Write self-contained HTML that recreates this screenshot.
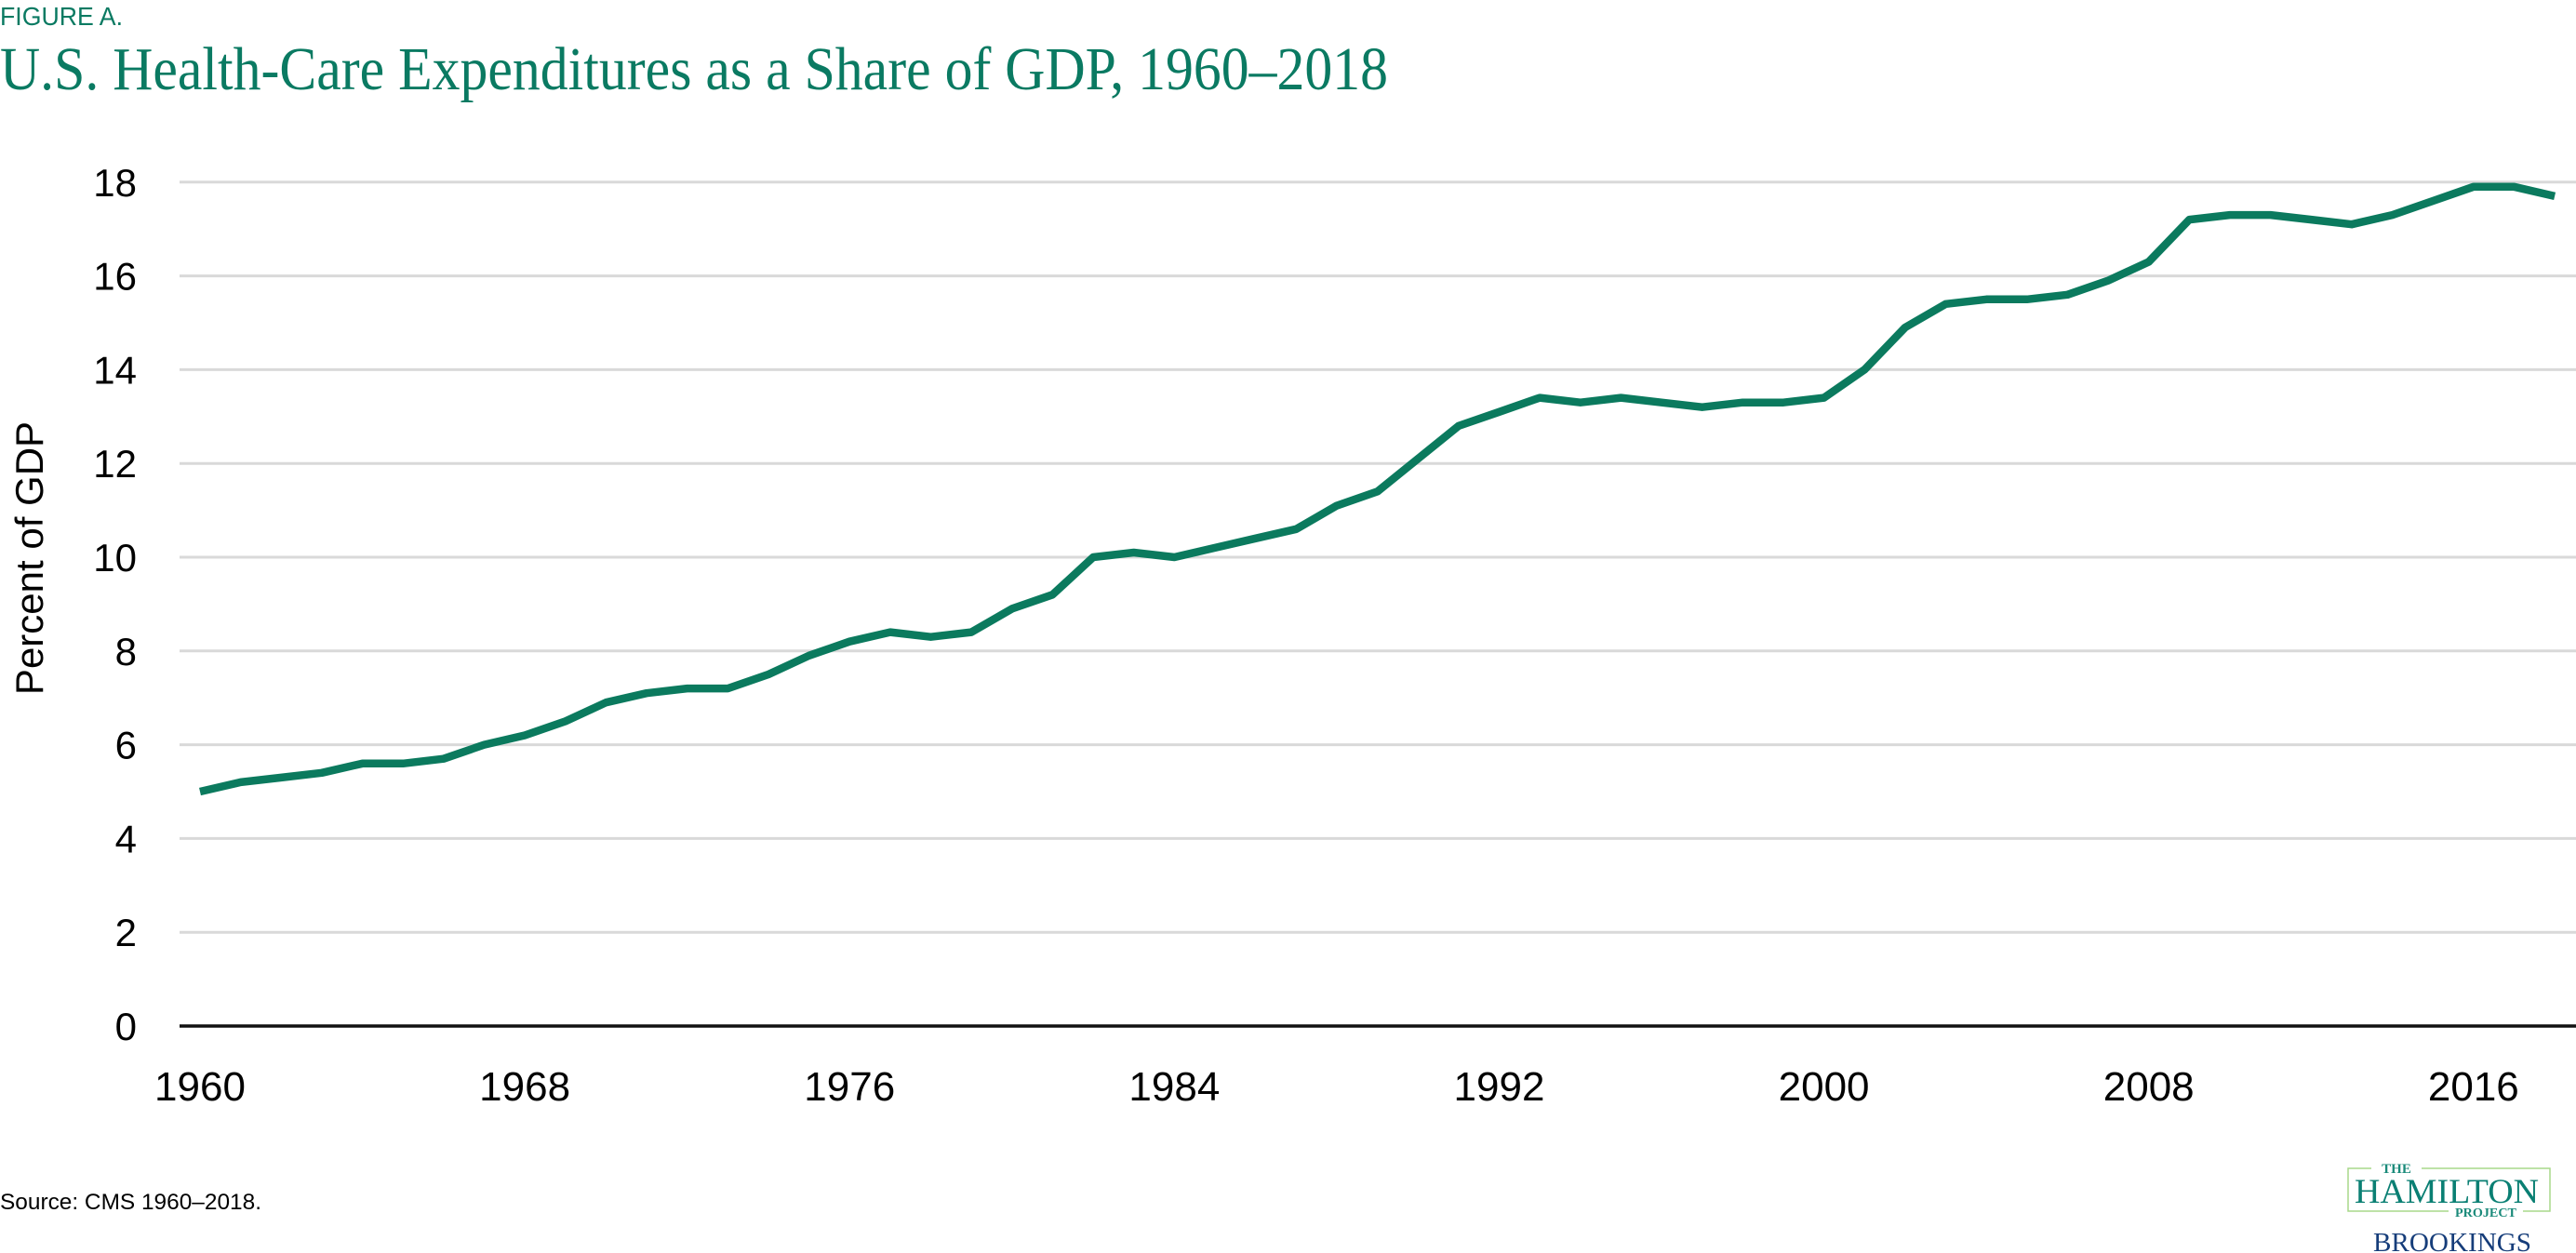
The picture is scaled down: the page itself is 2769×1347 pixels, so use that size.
<!DOCTYPE html>
<html><head><meta charset="utf-8"><style>
html,body{margin:0;padding:0;background:#fff;}
svg{display:block;}
</style></head><body>
<svg id="s" width="2769" height="1347" viewBox="0 0 2769 1347" xmlns="http://www.w3.org/2000/svg">
<text x="0" y="27" font-family="Liberation Sans, sans-serif" font-size="28" fill="#0a7a62" textLength="132" lengthAdjust="spacingAndGlyphs">FIGURE A.</text>
<text x="0" y="96" font-family="Liberation Serif, serif" font-size="66" fill="#0a7a62" textLength="1492" lengthAdjust="spacingAndGlyphs">U.S. Health-Care Expenditures as a Share of GDP, 1960–2018</text>
<g id="grid" stroke="#d9d9d9" stroke-width="3"></g>
<line x1="193" y1="1103" x2="2769" y2="1103" stroke="#111" stroke-width="3.5"/>
<g id="ylab" font-family="Liberation Sans, sans-serif" font-size="42" fill="#000" text-anchor="end"></g>
<g id="xlab" font-family="Liberation Sans, sans-serif" font-size="44" fill="#000" text-anchor="middle"></g>
<text transform="translate(46,600) rotate(-90)" font-family="Liberation Sans, sans-serif" font-size="42" fill="#000" text-anchor="middle">Percent of GDP</text>
<polyline id="ln" fill="none" stroke="#0b7a5e" stroke-width="8.5" stroke-linejoin="round" stroke-linecap="butt"/>
<text x="0" y="1300" font-family="Liberation Sans, sans-serif" font-size="24" fill="#000" textLength="281" lengthAdjust="spacingAndGlyphs">Source: CMS 1960–2018.</text>
<rect x="2524" y="1256" width="217" height="46" fill="none" stroke="#a8d98a" stroke-width="1.5"/>
<rect x="2549" y="1248" width="54" height="16" fill="#fff"/>
<text x="2576" y="1261" font-family="Liberation Serif, serif" font-size="15" fill="#1a8a7a" text-anchor="middle" font-weight="bold">THE</text>
<text x="2531" y="1293" font-family="Liberation Serif, serif" font-size="37" fill="#0a7f73" textLength="198" lengthAdjust="spacingAndGlyphs">HAMILTON</text>
<rect x="2632" y="1295" width="80" height="16" fill="#fff"/>
<text x="2672" y="1308" font-family="Liberation Serif, serif" font-size="14" fill="#1a8a7a" text-anchor="middle" font-weight="bold" textLength="66" lengthAdjust="spacingAndGlyphs">PROJECT</text>
<text x="2551" y="1345" font-family="Liberation Serif, serif" font-size="29" fill="#163d7a" textLength="170" lengthAdjust="spacingAndGlyphs">BROOKINGS</text>
</svg>
<script>
var NS="http://www.w3.org/2000/svg";
function Y(v){return 1103-v*50.4;}
function X(yr){return 215+(yr-1960)*43.64;}
var g=document.getElementById('grid'),yl=document.getElementById('ylab'),xl=document.getElementById('xlab');
for(var v=2;v<=18;v+=2){var l=document.createElementNS(NS,'line');l.setAttribute('x1',193);l.setAttribute('x2',2769);l.setAttribute('y1',Y(v));l.setAttribute('y2',Y(v));g.appendChild(l);}
for(var v=0;v<=18;v+=2){var t=document.createElementNS(NS,'text');t.setAttribute('x',147);t.setAttribute('y',Y(v)+15);t.textContent=v;yl.appendChild(t);}
for(var yr=1960;yr<=2016;yr+=8){var t=document.createElementNS(NS,'text');t.setAttribute('x',X(yr));t.setAttribute('y',1183);t.textContent=yr;xl.appendChild(t);}
var d=[5.0,5.2,5.3,5.4,5.6,5.6,5.7,6.0,6.2,6.5,6.9,7.1,7.2,7.2,7.5,7.9,8.2,8.4,8.3,8.4,8.9,9.2,10.0,10.1,10.0,10.2,10.4,10.6,11.1,11.4,12.1,12.8,13.1,13.4,13.3,13.4,13.3,13.2,13.3,13.3,13.4,14.0,14.9,15.4,15.5,15.5,15.6,15.9,16.3,17.2,17.3,17.3,17.2,17.1,17.3,17.6,17.9,17.9,17.7];
var p=d.map(function(v,i){return X(1960+i).toFixed(1)+','+Y(v).toFixed(1);}).join(' ');
document.getElementById('ln').setAttribute('points',p);
</script>
</body></html>
